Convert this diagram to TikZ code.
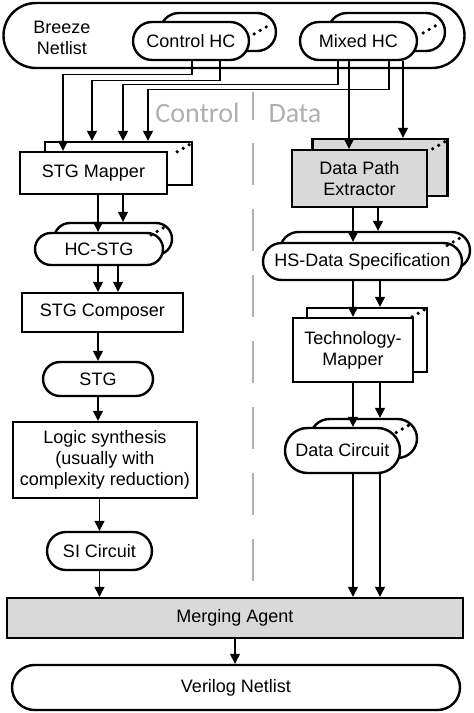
\documentclass[tikz,border=0pt]{standalone}
\usepackage{fontspec}
\setmainfont{Liberation Sans}
\newfontfamily\sepfont{Carlito}
\usetikzlibrary{shapes.misc,arrows.meta}
\definecolor{boxgrey}{RGB}{217,217,217}
\definecolor{sepgrey}{RGB}{175,175,175}
\newcommand{\stackdots}[1]{\fill #1 circle (1.8) ++(-6,-3.5) circle (1.8) ++(-6,-3.5) circle (1.8);}

\begin{document}
\begin{tikzpicture}[x=1pt, y=1pt, font=\fontsize{18}{21}\selectfont,
    pill/.style={rounded rectangle, draw, line width=2.4pt, fill=white, inner sep=0pt},
    box/.style={rectangle, draw, line width=2.4pt, fill=white, inner sep=0pt, align=center},
    greybox/.style={box, fill=boxgrey},
    arr/.style={-{Triangle[length=10pt,width=10pt]}, line width=1.3pt},
    sep/.style={sepgrey, line width=2pt},
    seplbl/.style={sepgrey, font=\sepfont\fontsize{28}{30}\selectfont}]
    \useasboundingbox (0,0) rectangle (474,713);

    % input
    \node [pill, minimum width=461pt, minimum height=65pt] (breeze) at (234,677.5) {};
    \node [align=center] (breezelbl) at (62,675) {Breeze\\Netlist};
    \node [pill, minimum width=116pt, minimum height=38pt] (ctrlhcb) at (218,681) {};
    \node [pill, minimum width=116pt, minimum height=38pt] (ctrlhc) at (191,672) {Control HC};
    \node [pill, minimum width=117pt, minimum height=38pt] (mixedhcb) at (386.5,681) {};
    \node [pill, minimum width=117pt, minimum height=38pt] (mixedhc) at (358.5,672) {Mixed HC};

    % control / data split
    \node [seplbl, anchor=base east] (ctrllbl) at (243,590) {Control};
    \node [seplbl, anchor=base west] (datalbl) at (265,590) {Data};
    \draw [sep] (253,621) -- (253,593);
    \draw [sep, dash pattern=on 42pt off 24pt] (253,570) -- (253,130);

    % control side
    \node [box, minimum width=147pt, minimum height=43pt] (mapperb) at (118.5,549.5) {};
    \node [box, minimum width=147pt, minimum height=42pt] (mapper) at (93.5,540) {STG Mapper};
    \node [pill, minimum width=118pt, minimum height=32pt] (hcstgb) at (113,474) {};
    \node [pill, minimum width=128pt, minimum height=32pt] (hcstg) at (99,464) {HC-STG};
    \node [box, minimum width=161pt, minimum height=39pt] (composer) at (102.5,400.5) {STG Composer};
    \node [pill, minimum width=110pt, minimum height=34pt] (stg) at (98,334) {STG};
    \node [box, minimum width=184pt, minimum height=76pt] (logic) at (105,253) {Logic synthesis\\(usually with\\complexity reduction)};
    \node [pill, minimum width=105pt, minimum height=38pt] (sicirc) at (99.5,162) {SI Circuit};

    % data side
    \node [greybox, minimum width=135pt, minimum height=57pt] (extractorb) at (380,545.5) {};
    \node [greybox, minimum width=135pt, minimum height=57pt] (extractor) at (359.5,534.5) {Data Path\\Extractor};
    \node [pill, minimum width=190pt, minimum height=37pt] (hsdatab) at (375,462.5) {};
    \node [pill, minimum width=199pt, minimum height=37pt] (hsdata) at (362.5,451.5) {HS-Data Specification};
    \node [box, minimum width=120pt, minimum height=64pt] (techmapb) at (367,373) {};
    \node [box, minimum width=120pt, minimum height=64pt] (techmap) at (353,363) {Technology-\\Mapper};
    \node [pill, minimum width=107pt, minimum height=39pt] (datacircb) at (363.5,274.5) {};
    \node [pill, minimum width=115pt, minimum height=45pt] (datacirc) at (342.5,262.5) {Data Circuit};

    % output
    \node [greybox, minimum width=456pt, minimum height=40pt] (merging) at (235,95) {Merging Agent};
    \node [pill, minimum width=448pt, minimum height=45pt] (verilog) at (236,25.5) {Verilog Netlist};

    % stacked copies
    \stackdots{([shift={(-11,5)}]ctrlhcb.east)}
    \stackdots{([shift={(-11,6)}]mixedhcb.east)}
    \stackdots{([shift={(-4,-4)}]mapperb.north east)}
    \stackdots{([shift={(-4,-4)}]extractorb.north east)}
    \stackdots{([shift={(-10,11)}]hcstgb.east)}
    \stackdots{([shift={(-12,12)}]hsdatab.east)}
    \stackdots{([shift={(-4,-3)}]techmapb.north east)}
    \stackdots{([shift={(-10,13)}]datacircb.east)}

    % hand-shake components into the mappers
    \draw [arr] ([xshift=1pt]ctrlhc.south) -- ++(0,-13) -| ([xshift=-30.5pt]mapper.north);
    \draw [arr] ([xshift=29pt]ctrlhc.south) -- ++(0,-19) -| ([xshift=-26.5pt]mapperb.north);
    \draw [arr] ([xshift=-20.5pt]mixedhc.south) -- ++(0,-23) -| ([xshift=4.5pt]mapperb.north);
    \draw [arr] ([xshift=30.5pt]mixedhc.south) -- ++(0,-28) -| ([xshift=29.5pt]mapperb.north);
    \draw [arr] ([xshift=-9.5pt]mixedhc.south) -- ([xshift=-9.5pt]mixedhc.south |- extractor.north);
    \draw [arr] ([xshift=44.5pt]mixedhc.south) -- ([xshift=44.5pt]mixedhc.south |- extractorb.north);

    % control flow
    \draw [arr] ([xshift=4.5pt]mapper.south) -- ([xshift=4.5pt]mapper.south |- hcstg.north);
    \draw [arr] ([xshift=29.5pt]mapper.south) -- ([xshift=29.5pt]mapper.south |- hcstgb.north);
    \draw [arr] ([xshift=-1pt]hcstg.south) -- ([xshift=-1pt]hcstg.south |- composer.north);
    \draw [arr] ([xshift=19pt]hcstg.south) -- ([xshift=19pt]hcstg.south |- composer.north);
    \draw [arr] (composer.south -| stg.north) -- (stg.north);
    \draw [arr] (stg.south) -- (stg.south |- logic.north);
    \draw [arr] (logic.south -| sicirc.north) -- (sicirc.north);
    \draw [arr] (sicirc.south) -- (sicirc.south |- merging.north);

    % data flow
    \draw [arr] ([xshift=-6.5pt]extractor.south) -- ([xshift=-6.5pt]extractor.south |- hsdata.north);
    \draw [arr] ([xshift=18.5pt]extractor.south) -- ([xshift=18.5pt]extractor.south |- hsdatab.north);
    \draw [arr] ([xshift=-9.5pt]hsdata.south) -- ([xshift=-9.5pt]hsdata.south |- techmap.north);
    \draw [arr] ([xshift=17.5pt]hsdata.south) -- ([xshift=17.5pt]hsdata.south |- techmapb.north);
    \draw [arr] (techmap.south) -- (techmap.south |- datacirc.north);
    \draw [arr] ([xshift=27pt]techmap.south) -- ([xshift=27pt]techmap.south |- datacircb.north);
    \draw [arr] ([xshift=10.5pt]datacirc.south) -- ([xshift=10.5pt]datacirc.south |- merging.north);
    \draw [arr] ([xshift=37.5pt]datacirc.south) -- ([xshift=37.5pt]datacirc.south |- merging.north);

    \draw [arr] (merging.south) -- (merging.south |- verilog.north);
\end{tikzpicture}
\end{document}
